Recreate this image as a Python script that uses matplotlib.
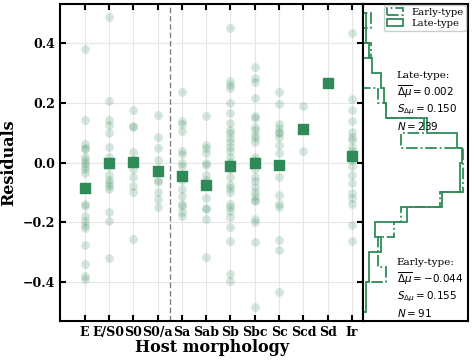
import numpy as np
import matplotlib.pyplot as plt
from matplotlib.patches import Patch

# morphology classes
types = ['E', 'E/S0', 'S0', 'S0/a', 'Sa', 'Sab', 'Sb', 'Sbc', 'Sc', 'Scd', 'Sd', 'Ir']

# residuals per host type
res_E = [0.38, 0.143, 0.063, 0.048, 0.045, 0.02, 0.01, 0.0, -0.01, -0.02, -0.035,
         -0.14, -0.145, -0.18, -0.195, -0.21, -0.22, -0.275, -0.34, -0.38, -0.39]
res_ES0 = [0.487, 0.207, 0.143, 0.127, 0.1, 0.053, 0.02, 0.005, -0.01, -0.04, -0.06,
           -0.07, -0.08, -0.09, -0.165, -0.195, -0.32]
res_S0 = [0.175, 0.123, 0.12, 0.035, 0.01, -0.023, -0.05, -0.077, -0.1, -0.255]
res_S0a = [0.16, 0.087, 0.047, 0.007, -0.02, -0.057, -0.065, -0.1, -0.123, -0.147]
res_Sa = [0.237, 0.14, 0.13, 0.107, 0.037, 0.03, 0.0, -0.013, -0.06, -0.09, -0.113,
          -0.14, -0.145, -0.167, -0.18]
res_Sab = [0.157, 0.06, 0.047, 0.033, 0.0, -0.007, -0.04, -0.06, -0.117, -0.153,
           -0.155, -0.19, -0.317]
res_Sb = [0.45, 0.273, 0.26, 0.25, 0.2, 0.167, 0.133, 0.11, 0.1, 0.083, 0.067, 0.053,
          0.037, 0.017, 0.003, -0.02, -0.05, -0.075, -0.085, -0.1, -0.14, -0.15,
          -0.163, -0.183, -0.217, -0.263, -0.373, -0.397]
res_Sbc = [0.32, 0.283, 0.27, 0.217, 0.157, 0.15, 0.12, 0.11, 0.093, 0.083, 0.067,
           0.02, 0.01, -0.02, -0.047, -0.063, -0.083, -0.1, -0.113, -0.125, -0.13,
           -0.19, -0.2, -0.267, -0.483]
res_Sc = [0.237, 0.197, 0.13, 0.117, 0.103, 0.1, 0.087, 0.06, 0.033, -0.01, -0.047,
          -0.107, -0.14, -0.15, -0.26, -0.293, -0.433]
res_Scd = [0.19, 0.037]
res_Sd = [0.267]
res_Ir = [0.433, 0.213, 0.177, 0.14, 0.103, 0.087, 0.077, 0.053, 0.037, 0.027, 0.01,
          -0.013, -0.04, -0.07, -0.103, -0.117, -0.14, -0.21, -0.263]
residuals = [res_E, res_ES0, res_S0, res_S0a, res_Sa, res_Sab, res_Sb, res_Sbc,
             res_Sc, res_Scd, res_Sd, res_Ir]

# mean residual per type
means = [-0.085, 0.0, 0.003, -0.027, -0.045, -0.075, -0.013, -0.003, -0.008,
         0.113, 0.267, 0.023]

# histogram counts, bins of 0.05 from -0.5 (bottom) to 0.5 (top)
bin_edges = np.linspace(-0.5, 0.5, 21)
late_counts = [1, 1, 2, 2, 6, 4, 15, 27, 33, 33, 34, 32, 22, 8, 7, 6, 3, 2, 1, 1]
early_counts = [0, 0, 3, 2, 2, 4, 5, 10, 13, 13, 13, 5, 8, 3, 2, 0, 0, 1, 0, 1]
n_late = 239
n_early = 91

green = '#2e8b57'

plt.rcParams['font.family'] = 'DejaVu Serif'
plt.rcParams['mathtext.fontset'] = 'dejavusans'

fig = plt.figure(figsize=(4.74, 3.62), dpi=100)
ax = fig.add_axes([0.127, 0.113, 0.639, 0.876])
axh = fig.add_axes([0.766, 0.113, 0.221, 0.876], sharey=ax)

for i, r in enumerate(residuals):
    ax.scatter(np.full(len(r), i), r, s=40, color=green, alpha=0.2, lw=0, zorder=2)
ax.scatter(range(len(types)), means, marker='s', s=60, color=green, zorder=3)

ax.axvline(3.5, color='gray', ls=(0, (4, 2)), lw=1)
ax.grid(True, color='#e6e6e6', lw=0.8, zorder=0)
ax.set_axisbelow(True)

ax.set_xticks(range(len(types)))
ax.set_xticklabels(types, fontweight='bold', fontsize=9)
ax.set_yticks([-0.4, -0.2, 0.0, 0.2, 0.4])
ax.set_yticklabels(['\u22120.4', '\u22120.2', '0.0', '0.2', '0.4'],
                   fontweight='bold', fontsize=9)
ax.set_xlim(-1, 11.45)
ax.set_ylim(-0.53, 0.53)
ax.tick_params(direction='in', top=True, right=True, width=1.5, length=4)
ax.set_xlabel('Host morphology', fontsize=11.5, fontweight='bold', labelpad=0)
ax.set_ylabel('Residuals', fontsize=11.5, fontweight='bold')
for sp in ax.spines.values():
    sp.set_linewidth(1.5)

dens_late = np.array(late_counts) / (n_late * 0.05)
dens_early = np.array(early_counts) / (n_early * 0.05)
axh.stairs(dens_early, bin_edges, orientation='horizontal', color=green,
           ls='-.', lw=1.3)
axh.stairs(dens_late, bin_edges, orientation='horizontal', color=green,
           ls='-', lw=1.3)
axh.set_xlim(0, 3.0)
axh.tick_params(left=False, bottom=False, labelleft=False, labelbottom=False)
for sp in axh.spines.values():
    sp.set_linewidth(1.5)
handles = [Patch(fill=False, edgecolor=green, ls='-.', lw=1.3, label='Early-type'),
           Patch(fill=False, edgecolor=green, ls='-', lw=1.3, label='Late-type')]
axh.legend(handles=handles, loc='upper right', fontsize=7.2, handlelength=1.6,
           borderpad=0.3, labelspacing=0.2, borderaxespad=0.15, framealpha=1)

axh.text(0.32, 0.79, 'Late-type:\n$\\overline{\\Delta\\mu} = 0.002$\n'
         '$S_{\\Delta\\mu} = 0.150$\n$N = 239$', transform=axh.transAxes,
         fontsize=7.5, va='top', linespacing=1.3)
axh.text(0.32, 0.2, 'Early-type:\n$\\overline{\\Delta\\mu} = -0.044$\n'
         '$S_{\\Delta\\mu} = 0.155$\n$N = 91$', transform=axh.transAxes,
         fontsize=7.5, va='top', linespacing=1.3)

fig.savefig('out.png', dpi=100)
